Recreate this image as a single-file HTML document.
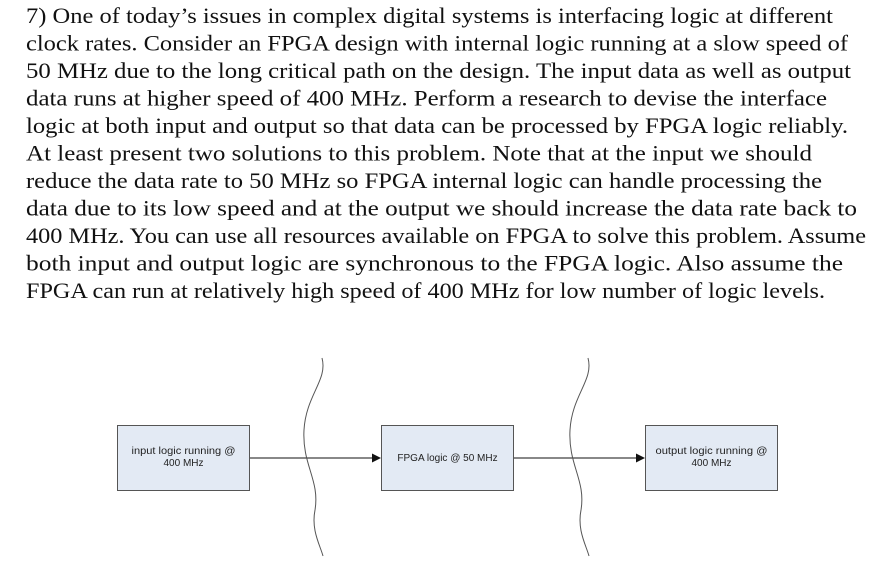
<!DOCTYPE html>
<html><head><meta charset="utf-8"><style>
html,body{margin:0;padding:0;background:#fff;width:875px;height:578px;overflow:hidden}
svg{display:block}
.t{font-family:"Liberation Serif",serif;font-size:22px;fill:#111}
.b{font-family:"Liberation Sans",sans-serif;font-size:10px;fill:#222}
</style></head><body>
<svg width="875" height="578" viewBox="0 0 875 578">
<g class="t">
<text x="26" y="23" textLength="807" lengthAdjust="spacingAndGlyphs">7) One of today’s issues in complex digital systems is interfacing logic at different</text>
<text x="26" y="50.5" textLength="822" lengthAdjust="spacingAndGlyphs">clock rates. Consider an FPGA design with internal logic running at a slow speed of</text>
<text x="26" y="78" textLength="825" lengthAdjust="spacingAndGlyphs">50 MHz due to the long critical path on the design. The input data as well as output</text>
<text x="26" y="105.5" textLength="801" lengthAdjust="spacingAndGlyphs">data runs at higher speed of 400 MHz. Perform a research to devise the interface</text>
<text x="26" y="133" textLength="822" lengthAdjust="spacingAndGlyphs">logic at both input and output so that data can be processed by FPGA logic reliably.</text>
<text x="26" y="160.5" textLength="786" lengthAdjust="spacingAndGlyphs">At least present two solutions to this problem. Note that at the input we should</text>
<text x="26" y="188" textLength="796" lengthAdjust="spacingAndGlyphs">reduce the data rate to 50 MHz so FPGA internal logic can handle processing the</text>
<text x="26" y="215.5" textLength="831" lengthAdjust="spacingAndGlyphs">data due to its low speed and at the output we should increase the data rate back to</text>
<text x="26" y="243" textLength="840" lengthAdjust="spacingAndGlyphs">400 MHz. You can use all resources available on FPGA to solve this problem. Assume</text>
<text x="26" y="270.5" textLength="817" lengthAdjust="spacingAndGlyphs">both input and output logic are synchronous to the FPGA logic. Also assume the</text>
<text x="26" y="298" textLength="799" lengthAdjust="spacingAndGlyphs">FPGA can run at relatively high speed of 400 MHz for low number of logic levels.</text>
</g>
<g fill="#e3eaf4" stroke="#555" stroke-width="1">
<rect x="117.5" y="425.5" width="132" height="65"/>
<rect x="381.5" y="425.5" width="132" height="65"/>
<rect x="645.5" y="425.5" width="132" height="65"/>
</g>
<g stroke="#111" stroke-width="1" fill="none">
<line x1="250" y1="458" x2="374" y2="458"/>
<line x1="514" y1="458" x2="638" y2="458"/>
</g>
<polygon points="381,458 372,453.5 372,462.5" fill="#111"/>
<polygon points="645,458 636,453.5 636,462.5" fill="#111"/>
<g stroke="#555" stroke-width="1" fill="none">
<path d="M322,358 C328,380 306,395 304,430 C302,465 320,480 315,510 C311,530 320,545 323,556"/>
<path d="M588,358 C594,380 572,395 570,430 C568,465 586,480 581,510 C577,530 586,545 589,556"/>
</g>
<g class="b" text-anchor="middle">
<text x="183.5" y="454" textLength="104" lengthAdjust="spacingAndGlyphs">input logic running @</text>
<text x="183.5" y="466">400 MHz</text>
<text x="447.5" y="461">FPGA logic @ 50 MHz</text>
<text x="711.5" y="454" textLength="112" lengthAdjust="spacingAndGlyphs">output logic running @</text>
<text x="711.5" y="466">400 MHz</text>
</g>
</svg>
</body></html>
